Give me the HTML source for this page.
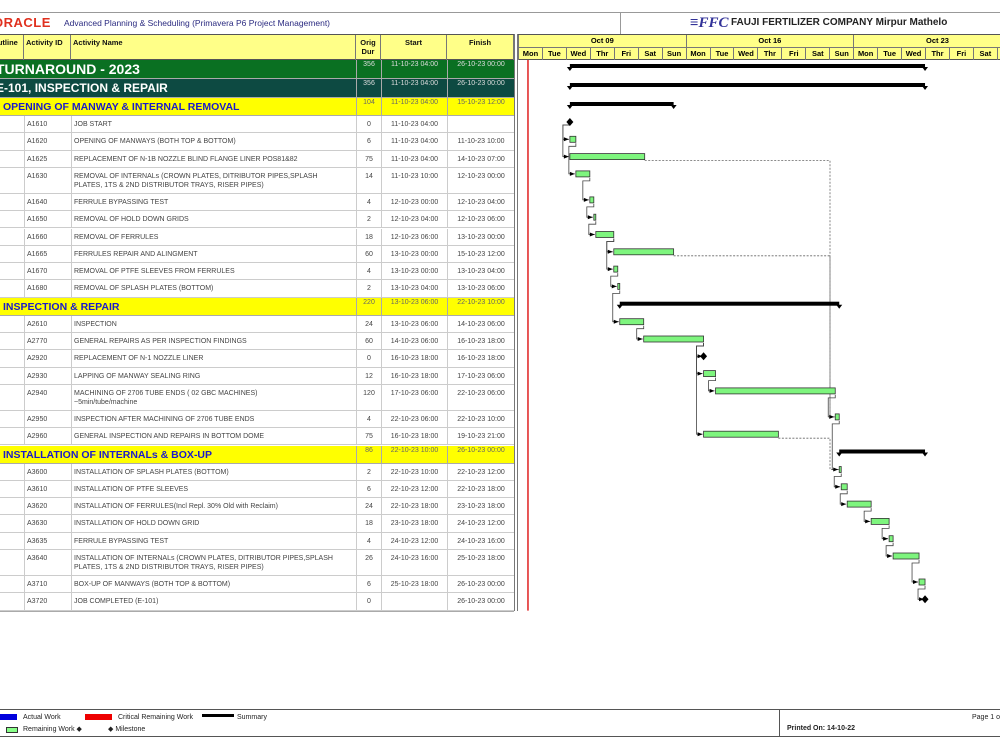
<!DOCTYPE html>
<html><head><meta charset="utf-8">
<style>
body{margin:0;width:1000px;height:750px;overflow:hidden;background:#fff;font-family:"Liberation Sans",sans-serif;position:relative}
#root{position:absolute;left:0;top:0;width:1000px;height:750px;overflow:hidden}
.a{position:absolute;white-space:nowrap;box-sizing:border-box}
</style></head>
<body>
<div id="root"></div>
<svg id="g" width="1000" height="750" style="position:absolute;left:0;top:0"></svg>
<script>
// ---- data ----
const rowTypes=["L1","L2","S","A","A","A","A2","A","A","A","A","A","A","S","A","A","A","A","A2","A","A","S","A","A","A","A","A","A2","A","A"];
const outlines=["TURNAROUND - 2023","E-101, INSPECTION & REPAIR","OPENING OF MANWAY & INTERNAL REMOVAL","","","","","","","","","","","INSPECTION & REPAIR","","","","","","","","INSTALLATION OF INTERNALs & BOX-UP","","","","","","","",""];
const ids=["","","","A1610","A1620","A1625","A1630","A1640","A1650","A1660","A1665","A1670","A1680","","A2610","A2770","A2920","A2930","A2940","A2950","A2960","","A3600","A3610","A3620","A3630","A3635","A3640","A3710","A3720"];
const names=["","","","JOB START","OPENING OF MANWAYS (BOTH TOP & BOTTOM)","REPLACEMENT OF N-1B NOZZLE BLIND FLANGE LINER POS81&82","REMOVAL OF INTERNALs (CROWN PLATES,  DITRIBUTOR PIPES,SPLASH|PLATES, 1TS & 2ND DISTRIBUTOR TRAYS, RISER PIPES)","FERRULE BYPASSING TEST","REMOVAL OF HOLD DOWN GRIDS","REMOVAL OF FERRULES","FERRULES REPAIR AND ALINGMENT","REMOVAL OF PTFE SLEEVES FROM FERRULES","REMOVAL OF SPLASH PLATES (BOTTOM)","","INSPECTION","GENERAL REPAIRS AS PER INSPECTION FINDINGS","REPLACEMENT OF N-1 NOZZLE LINER","LAPPING OF MANWAY SEALING RING","MACHINING OF 2706 TUBE ENDS ( 02 GBC MACHINES)|~5min/tube/machine","INSPECTION AFTER MACHINING OF 2706 TUBE ENDS","GENERAL INSPECTION AND REPAIRS IN BOTTOM DOME","","INSTALLATION OF SPLASH PLATES (BOTTOM)","INSTALLATION OF PTFE SLEEVES","INSTALLATION OF FERRULES(Incl Repl. 30% Old with Reclaim)","INSTALLATION OF HOLD DOWN GRID","FERRULE BYPASSING TEST","INSTALLATION OF INTERNALs (CROWN PLATES,  DITRIBUTOR PIPES,SPLASH|PLATES, 1TS & 2ND DISTRIBUTOR TRAYS, RISER PIPES)","BOX-UP OF MANWAYS (BOTH TOP & BOTTOM)","JOB COMPLETED (E-101)"];
const durs=[356,356,104,0,6,75,14,4,2,18,60,4,2,220,24,60,0,12,120,4,75,86,2,6,24,18,4,26,6,0];
const starts=["11-10-23 04:00","11-10-23 04:00","11-10-23 04:00","11-10-23 04:00","11-10-23 04:00","11-10-23 04:00","11-10-23 10:00","12-10-23 00:00","12-10-23 04:00","12-10-23 06:00","13-10-23 00:00","13-10-23 00:00","13-10-23 04:00","13-10-23 06:00","13-10-23 06:00","14-10-23 06:00","16-10-23 18:00","16-10-23 18:00","17-10-23 06:00","22-10-23 06:00","16-10-23 18:00","22-10-23 10:00","22-10-23 10:00","22-10-23 12:00","22-10-23 18:00","23-10-23 18:00","24-10-23 12:00","24-10-23 16:00","25-10-23 18:00",""];
const finishes=["26-10-23 00:00","26-10-23 00:00","15-10-23 12:00","","11-10-23 10:00","14-10-23 07:00","12-10-23 00:00","12-10-23 04:00","12-10-23 06:00","13-10-23 00:00","15-10-23 12:00","13-10-23 04:00","13-10-23 06:00","22-10-23 10:00","14-10-23 06:00","16-10-23 18:00","16-10-23 18:00","17-10-23 06:00","22-10-23 06:00","22-10-23 10:00","19-10-23 21:00","26-10-23 00:00","22-10-23 12:00","22-10-23 18:00","23-10-23 18:00","24-10-23 12:00","24-10-23 16:00","25-10-23 18:00","26-10-23 00:00","26-10-23 00:00"];
const preds=[-1,-1,-1,-1,3,3,4,6,7,8,9,9,11,-1,12,14,15,15,17,18,15,-1,19,22,23,24,25,26,27,28];
const dottedLinks=[[5,19],[10,19],[20,22]];
const weekLabels=["Oct 09","Oct 16","Oct 23"];
const dayLabels=["Mon","Tue","Wed","Thr","Fri","Sat","Sun"];
const dataDate="09-10-23 10:00";

// ---- layout ----
const X0=518, DW=167.6/7;
function tx(s){const [d,t]=s.split(" ");const dd=+d.split("-")[0];const [h,m]=t.split(":").map(Number);return X0+((dd-9)+(h+m/60)/24)*DW;}
const H={L1:19,L2:19,S:18,A:17.3,A2:26};
const tops=[];let y=60;rowTypes.forEach(t=>{tops.push(y);y+=H[t];});
const tableBottom=y;
const root=document.getElementById('root');
function div(name,x,y,w,h,css,txt){const e=document.createElement('div');e.className='a';e.style.cssText=`left:${x}px;top:${y}px;width:${w}px;height:${h}px;`+css;if(txt!==undefined)e.innerHTML=txt;

root.appendChild(e);return e;}
// title
div('report-title-bar',0,12,1000,22,'border-top:1px solid #999;');
div('oracle-logo',-7,14,60,18,'color:#e0301e;font-size:13px;font-weight:bold;letter-spacing:0.5px;line-height:18px','ORACLE');
div('report-title',64,16,300,14,'color:#2a2a80;font-size:8.5px;line-height:14px;font-family:"Liberation Sans Narrow","Liberation Sans",sans-serif','Advanced Planning &amp; Scheduling (Primavera P6 Project Management)');
div('title-divider',620,12,1,22,'background:#999');
div('ffc-logo',690,15,38,17,'color:#333399;font-family:"Liberation Serif",serif;font-weight:bold;font-size:15px;line-height:17px;font-style:italic','&#8801;FFC');
div('company-name',731,16,260,14,'color:#222;font-size:10px;font-weight:bold;line-height:14px','FAUJI FERTILIZER COMPANY Mirpur Mathelo');
// table header
const cols=[[0,24,'Outline','outline'],[24,71,'Activity ID','activity-id'],[71,356,'Activity Name','activity-name'],[356,381,'Orig<br>Dur','orig-dur'],[381,447,'Start','start'],[447,514,'Finish','finish']];
div('table-header',0,34,514,26,'background:#ffff88;border-top:1px solid #555;border-bottom:1px solid #555');
cols.forEach(c=>{const e=div('header-'+c[3],c[0],35,c[1]-c[0],25,'font-size:7.5px;font-weight:bold;color:#111;padding:3px 2px;line-height:9px;border-right:1px solid #777;'+(c[3]=='orig-dur'||c[3]=='start'||c[3]=='finish'?'text-align:center;':''),c[2]);if(c[3]=='outline'){e.style.textIndent='-10px';}});
div('gantt-separator',514,34,4,tableBottom-34,'border-left:1px solid #777;border-right:1px solid #777');
div('timescale-header',518,34,482,26,'background:#ffff88;border-top:1px solid #555;border-bottom:1px solid #555');
div('timescale-mid',518,47,482,1,'background:#777');
weekLabels.forEach((w,i)=>{div('week-'+w.toLowerCase().replace(' ','-'),X0+i*7*DW,35,7*DW,12,'font-size:7.5px;font-weight:bold;text-align:center;line-height:12px;border-left:1px solid #777',w);
dayLabels.forEach((d,j)=>{if(X0+(i*7+j)*DW<1000)div('day-'+d.toLowerCase(),X0+(i*7+j)*DW,48,DW,12,'font-size:7.5px;font-weight:bold;text-align:center;line-height:12px;border-left:1px solid #777',d);});});
// rows
rowTypes.forEach((t,i)=>{const top=tops[i],h=H[t];
 if(t=='L1'||t=='L2'||t=='S'){
  const bg=t=='L1'?'#0a7022':t=='L2'?'#0d4a42':'#ffff00';
  const fc=t=='S'?'#1a1acc':'#fff';const fs=t=='L1'?14:t=='L2'?12:10.5;
  div('wbs-row-'+i,0,top,514,h,`background:${bg};border-bottom:1px solid #aaa`);
  div('wbs-name-'+i,t=='S'?3:-4,top,350,h,`color:${fc};font-size:${fs}px;font-weight:bold;line-height:${h}px`,outlines[i].replace(/&/g,'&amp;'));
  const nc=t=='S'?'#666':'#ddd';
  div('wbs-dur-'+i,356,top,25,h,`border-left:1px solid #aaa;color:${nc};font-size:7px;text-align:center;padding-top:1px`,durs[i]);
  div('wbs-start-'+i,381,top,66,h,`border-left:1px solid #aaa;color:${nc};font-size:7px;text-align:center;padding-top:1px`,starts[i]);
  div('wbs-finish-'+i,447,top,67,h,`border-left:1px solid #aaa;color:${nc};font-size:7px;text-align:center;padding-top:1px`,finishes[i]);
 } else {
  div('activity-row-'+ids[i],0,top,514,h,'border-bottom:1px solid #ccc');
  const cs='font-size:7px;color:#444;padding-top:4px;line-height:9px;border-left:1px solid #ccc;';
  div('id-'+ids[i],24,top,47,h,cs+'padding-left:2px',ids[i]);
  div('name-'+ids[i],71,top,285,h,cs+'padding-left:2px',names[i].replace(/&/g,'&amp;').replace('|','<br>'));
  div('dur-'+ids[i],356,top,25,h,cs+'text-align:center',durs[i]);
  div('start-'+ids[i],381,top,66,h,cs+'text-align:center',starts[i]);
  div('finish-'+ids[i],447,top,67,h,cs+'text-align:center',i==3?'':finishes[i]);
 }});
div('table-bottom',0,tableBottom,514,1,'background:#aaa');
// footer
div('footer',0,709,1000,28,'border-top:1px solid #555;border-bottom:1px solid #555');
div('footer-divider',779,709,1,28,'background:#555');
const lg='font-size:7px;color:#222;line-height:9px;';
div('legend-actual-swatch',-4,714,21,6,'background:#0000dd');
div('legend-actual',23,713,60,9,lg,'Actual Work');
div('legend-critical-swatch',85,714,27,6,'background:#ee0000');
div('legend-critical',118,713,90,9,lg,'Critical Remaining Work');
div('legend-summary-swatch',202,714,32,3,'background:#000');
div('legend-summary',237,713,40,9,lg,'Summary');
div('legend-remaining-swatch',6,727,12,6,'background:#8f8;border:1px solid #333');
div('legend-remaining',23,725,80,9,lg,'Remaining Work &#9670;');
div('legend-milestone',108,725,60,9,lg,'&#9670; Milestone');
div('printed-on',787,725,100,9,'font-size:7px;font-weight:bold;color:#222','Printed On: 14-10-22');
div('page-number',972,713,28,9,lg+'overflow:hidden','Page 1 of 1');

// ---- svg gantt ----
const svg=document.getElementById('g');const NS='http://www.w3.org/2000/svg';
function el(tag,attrs,name){const e=document.createElementNS(NS,tag);for(const k in attrs)e.setAttribute(k,attrs[k]);

svg.appendChild(e);return e;}
const dd=tx(dataDate);
el('line',{x1:dd,y1:60,x2:dd,y2:tableBottom,stroke:'#e02020','stroke-width':1.5},'data-date-line');
function barTop(i){return tops[i]+3;}
// dotted links
dottedLinks.forEach(([p,s])=>{const px=tx(finishes[p]),py=barTop(p)+7,lx=tx(starts[s])-6,sy=barTop(s)+3;
 el('path',{d:`M${px},${py} H${830} V${sy} H${lx+6}`,fill:'none',stroke:'#666','stroke-width':0.8,'stroke-dasharray':'2,1.5'},'dotted-relationship');});
// links
preds.forEach((p,s)=>{if(p<0)return;const px=(rowTypes[p]&&durs[p]===0&&starts[p])?tx(starts[p]):tx(finishes[p]);
 const py=barTop(p)+(durs[p]===0?3:7);const sx=starts[s]?tx(starts[s]):tx(finishes[s]);const sy=barTop(s)+3;const lx=Math.min(sx-7,px-2);
 el('path',{d:`M${px},${py} V${py+3} H${lx} V${sy} H${sx-1}`,fill:'none',stroke:'#444','stroke-width':0.8},'relationship-line');
 el('path',{d:`M${sx-1},${sy} l-5,-2 v4 z`,fill:'#000'},'relationship-arrow');});
// bars
rowTypes.forEach((t,i)=>{
 if(t=='A'||t=='A2'){
  if(durs[i]===0){const mx=starts[i]?tx(starts[i]):tx(finishes[i]);const my=barTop(i)+3;
   el('path',{d:`M${mx},${my-4} L${mx+3.5},${my} L${mx},${my+4} L${mx-3.5},${my} Z`,fill:'#000'},'milestone-'+ids[i]);}
  else{const x1=tx(starts[i]),x2=tx(finishes[i]);
   el('rect',{x:x1,y:barTop(i),width:Math.max(x2-x1,1.5),height:6,fill:'#7ef57e',stroke:'#333','stroke-width':0.8},'bar-'+ids[i]);}
 } else {const x1=tx(starts[i]),x2=tx(finishes[i]);const by=tops[i]+4;
  el('rect',{x:x1,y:by,width:x2-x1,height:4,fill:'#000'},'summary-bar-'+i);
  el('path',{d:`M${x1-3},${by+3} h6 l-3,4 z M${x2-3},${by+3} h6 l-3,4 z`,fill:'#000'},'summary-caps-'+i);}
});
</script>
</body></html>
